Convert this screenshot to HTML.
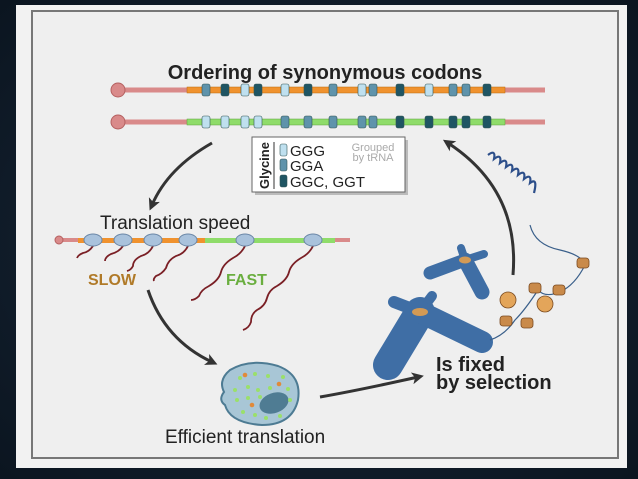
<!DOCTYPE html>
<html><head><meta charset="utf-8"><style>
body{margin:0;width:638px;height:479px;background:#0f1a28;overflow:hidden}
svg{display:block}
text{font-family:"Liberation Sans",sans-serif}
</style></head><body>
<svg width="638" height="479" viewBox="0 0 638 479">
<defs>
<radialGradient id="bg" cx="50%" cy="50%" r="70%"><stop offset="0" stop-color="#1a2a3c"/><stop offset="1" stop-color="#0b1520"/></radialGradient>
<marker id="ah" markerWidth="12" markerHeight="12" refX="6" refY="6" orient="auto" markerUnits="userSpaceOnUse"><path d="M0,0 L12,6 L0,12 L3,6z" fill="#333"/></marker>
</defs>
<rect width="638" height="479" fill="url(#bg)"/>
<rect x="16" y="5" width="611" height="463" fill="#f2f2f2"/>
<rect x="32" y="11" width="586" height="447" fill="#efefef" stroke="#777" stroke-width="2"/>
<text x="325" y="79" font-size="20" font-weight="bold" text-anchor="middle" fill="#222">Ordering of synonymous codons</text>
<g>
<line x1="118" y1="90" x2="545" y2="90" stroke="#d98a8a" stroke-width="5"/>
<circle cx="118" cy="90" r="7" fill="#d98a8a" stroke="#b56060"/>
<rect x="187" y="87" width="318" height="6" fill="#f0922e" stroke="#b86a10" stroke-width="0.5"/>
<line x1="118" y1="122" x2="545" y2="122" stroke="#d98a8a" stroke-width="5"/>
<circle cx="118" cy="122" r="7" fill="#d98a8a" stroke="#b56060"/>
<rect x="187" y="119" width="318" height="6" fill="#8fdc6a" stroke="#5aa03a" stroke-width="0.5"/>
</g>
<g stroke="#355" stroke-width="0.6">
<rect x="202" y="84" width="8" height="12" rx="2" fill="#5f93ab"/>
<rect x="221" y="84" width="8" height="12" rx="2" fill="#1f5563"/>
<rect x="241" y="84" width="8" height="12" rx="2" fill="#bfe0ef"/>
<rect x="254" y="84" width="8" height="12" rx="2" fill="#1f5563"/>
<rect x="281" y="84" width="8" height="12" rx="2" fill="#bfe0ef"/>
<rect x="304" y="84" width="8" height="12" rx="2" fill="#1f5563"/>
<rect x="329" y="84" width="8" height="12" rx="2" fill="#5f93ab"/>
<rect x="358" y="84" width="8" height="12" rx="2" fill="#bfe0ef"/>
<rect x="369" y="84" width="8" height="12" rx="2" fill="#5f93ab"/>
<rect x="396" y="84" width="8" height="12" rx="2" fill="#1f5563"/>
<rect x="425" y="84" width="8" height="12" rx="2" fill="#bfe0ef"/>
<rect x="449" y="84" width="8" height="12" rx="2" fill="#5f93ab"/>
<rect x="462" y="84" width="8" height="12" rx="2" fill="#5f93ab"/>
<rect x="483" y="84" width="8" height="12" rx="2" fill="#1f5563"/>
<rect x="202" y="116" width="8" height="12" rx="2" fill="#bfe0ef"/>
<rect x="221" y="116" width="8" height="12" rx="2" fill="#bfe0ef"/>
<rect x="241" y="116" width="8" height="12" rx="2" fill="#bfe0ef"/>
<rect x="254" y="116" width="8" height="12" rx="2" fill="#bfe0ef"/>
<rect x="281" y="116" width="8" height="12" rx="2" fill="#5f93ab"/>
<rect x="304" y="116" width="8" height="12" rx="2" fill="#5f93ab"/>
<rect x="329" y="116" width="8" height="12" rx="2" fill="#5f93ab"/>
<rect x="358" y="116" width="8" height="12" rx="2" fill="#5f93ab"/>
<rect x="369" y="116" width="8" height="12" rx="2" fill="#5f93ab"/>
<rect x="396" y="116" width="8" height="12" rx="2" fill="#1f5563"/>
<rect x="425" y="116" width="8" height="12" rx="2" fill="#1f5563"/>
<rect x="449" y="116" width="8" height="12" rx="2" fill="#1f5563"/>
<rect x="462" y="116" width="8" height="12" rx="2" fill="#1f5563"/>
<rect x="483" y="116" width="8" height="12" rx="2" fill="#1f5563"/>
</g>
<rect x="255" y="140" width="153" height="55" fill="#bbb"/>
<rect x="252" y="137" width="153" height="55" fill="#fff" stroke="#666"/>
<text transform="translate(269,189) rotate(-90)" font-size="13" font-weight="bold" fill="#222">Glycine</text>
<line x1="274" y1="142" x2="274" y2="189" stroke="#333"/>
<g stroke="#355" stroke-width="0.6">
<rect x="280" y="144" width="7" height="12" rx="2" fill="#bfe0ef"/>
<rect x="280" y="159" width="7" height="12" rx="2" fill="#5f93ab"/>
<rect x="280" y="175" width="7" height="12" rx="2" fill="#1f5563"/>
</g>
<text x="290" y="156" font-size="15" fill="#222">GGG</text>
<text x="290" y="171" font-size="15" fill="#222">GGA</text>
<text x="290" y="187" font-size="15" fill="#222">GGC, GGT</text>
<text x="373" y="151" font-size="11" fill="#aaa" text-anchor="middle">Grouped</text>
<text x="373" y="161" font-size="11" fill="#aaa" text-anchor="middle">by tRNA</text>
<path d="M212,143 Q168,168 152,205" fill="none" stroke="#333" stroke-width="3" marker-end="url(#ah)"/>
<path d="M148,290 Q165,340 212,362" fill="none" stroke="#333" stroke-width="3" marker-end="url(#ah)"/>
<path d="M320,397 Q360,390 418,377" fill="none" stroke="#333" stroke-width="3" marker-end="url(#ah)"/>
<path d="M513,275 Q520,190 448,143" fill="none" stroke="#333" stroke-width="3" marker-end="url(#ah)"/>
<text x="100" y="229" font-size="19" fill="#222">Translation speed</text>
<line x1="58" y1="240" x2="350" y2="240" stroke="#d98a8a" stroke-width="4"/>
<circle cx="59" cy="240" r="4" fill="#d98a8a" stroke="#b56060"/>
<rect x="78" y="238" width="127" height="5" fill="#f0922e"/>
<rect x="205" y="238" width="130" height="5" fill="#8fdc6a"/>
<g fill="none" stroke="#7a1f25" stroke-width="1.8">
<path d="M93,246 q-4,6 -10,7 q-5,2 -6,5"/>
<path d="M123,246 q-4,6 -12,8 q-6,3 -6,7"/>
<path d="M153,246 q-4,8 -12,10 q-8,4 -8,10 q-2,4 -6,5"/>
<path d="M188,246 q-4,8 -12,10 q-8,4 -10,12 q-4,6 -10,8 q-3,3 -2,5"/>
<path d="M245,246 q-4,8 -12,12 q-10,6 -12,14 q-2,8 -12,14 q-8,4 -10,10 q-4,4 -8,4"/>
<path d="M313,246 q-4,8 -12,12 q-10,6 -12,14 q-2,8 -12,14 q-8,4 -10,12 q-2,8 -10,12 q-6,4 -6,12 q-2,6 -8,8"/>
</g>
<g fill="#a9c2dc" stroke="#6a86a6">
<ellipse cx="93" cy="240" rx="9" ry="6"/><ellipse cx="123" cy="240" rx="9" ry="6"/>
<ellipse cx="153" cy="240" rx="9" ry="6"/><ellipse cx="188" cy="240" rx="9" ry="6"/>
<ellipse cx="245" cy="240" rx="9" ry="6"/><ellipse cx="313" cy="240" rx="9" ry="6"/>
</g>
<text x="88" y="285" font-size="16" font-weight="bold" fill="#b07a28">SLOW</text>
<text x="226" y="285" font-size="16" font-weight="bold" fill="#6aae3f">FAST</text>
<path d="M230,370 Q250,358 278,366 Q302,375 298,400 Q292,425 262,425 Q230,423 225,405 Q218,400 224,392 Q218,380 230,370z" fill="#a8c6d6" stroke="#4d7b93" stroke-width="2"/>
<ellipse cx="274" cy="403" rx="15" ry="10" fill="#4f7c93" transform="rotate(-20 274 403)"/>
<g fill="#9ae06a"><circle cx="240" cy="378" r="2"/><circle cx="255" cy="374" r="2"/><circle cx="268" cy="376" r="2"/><circle cx="283" cy="377" r="2"/><circle cx="235" cy="390" r="2"/><circle cx="248" cy="387" r="2"/><circle cx="258" cy="390" r="2"/><circle cx="270" cy="388" r="2"/><circle cx="288" cy="389" r="2"/><circle cx="237" cy="400" r="2"/><circle cx="248" cy="398" r="2"/><circle cx="260" cy="397" r="2"/><circle cx="290" cy="400" r="2"/><circle cx="243" cy="412" r="2"/><circle cx="255" cy="415" r="2"/><circle cx="266" cy="418" r="2"/><circle cx="280" cy="416" r="2"/></g>
<g fill="#e08a3a"><circle cx="245" cy="375" r="2.3"/><circle cx="279" cy="384" r="2.3"/><circle cx="252" cy="405" r="2.3"/></g>
<text x="165" y="443" font-size="19" fill="#222">Efficient translation</text>
<!-- chromosomes -->
<g stroke="#3f6ea5" stroke-linecap="round" fill="none">
<line x1="465" y1="260" x2="461" y2="248" stroke-width="8"/>
<line x1="465" y1="260" x2="484" y2="254" stroke-width="8"/>
<line x1="465" y1="260" x2="430" y2="273" stroke-width="13"/>
<line x1="465" y1="260" x2="482" y2="292" stroke-width="15"/>
<line x1="420" y1="312" x2="432" y2="296" stroke-width="10"/>
<line x1="420" y1="312" x2="394" y2="302" stroke-width="12"/>
<line x1="420" y1="312" x2="388" y2="365" stroke-width="30"/>
<line x1="420" y1="312" x2="482" y2="342" stroke-width="22"/>
</g>
<ellipse cx="420" cy="312" rx="8" ry="4" fill="#d39a55"/>
<ellipse cx="465" cy="260" rx="6" ry="3.5" fill="#d39a55"/>
<path d="M488,155 q8,-6 6,4 q8,-6 6,4 q8,-6 6,4 q8,-6 6,4 q8,-6 6,4 q8,-6 6,4 q8,-6 6,4 q8,-6 4,10" fill="none" stroke="#2d4f8a" stroke-width="2.2"/>
<path d="M530,225 Q535,245 560,250 Q582,255 585,265 Q575,285 560,292 Q545,298 538,290 Q525,310 515,320 Q505,335 490,340" fill="none" stroke="#3a5f8a" stroke-width="1.2"/>
<g fill="#c98a4a" stroke="#7a4a20" stroke-width="0.8">
<rect x="577" y="258" width="12" height="10" rx="3"/>
<rect x="529" y="283" width="12" height="10" rx="3"/>
<rect x="553" y="285" width="12" height="10" rx="3"/>
<rect x="500" y="316" width="12" height="10" rx="3"/>
<rect x="521" y="318" width="12" height="10" rx="3"/>
</g>
<g fill="#e3a55a" stroke="#7a4a20" stroke-width="0.8">
<circle cx="508" cy="300" r="8"/><circle cx="545" cy="304" r="8"/>
</g>
<text x="436" y="371" font-size="20" font-weight="bold" fill="#222">Is fixed</text>
<text x="436" y="389" font-size="20" font-weight="bold" fill="#222">by selection</text>
</svg>
</body></html>
